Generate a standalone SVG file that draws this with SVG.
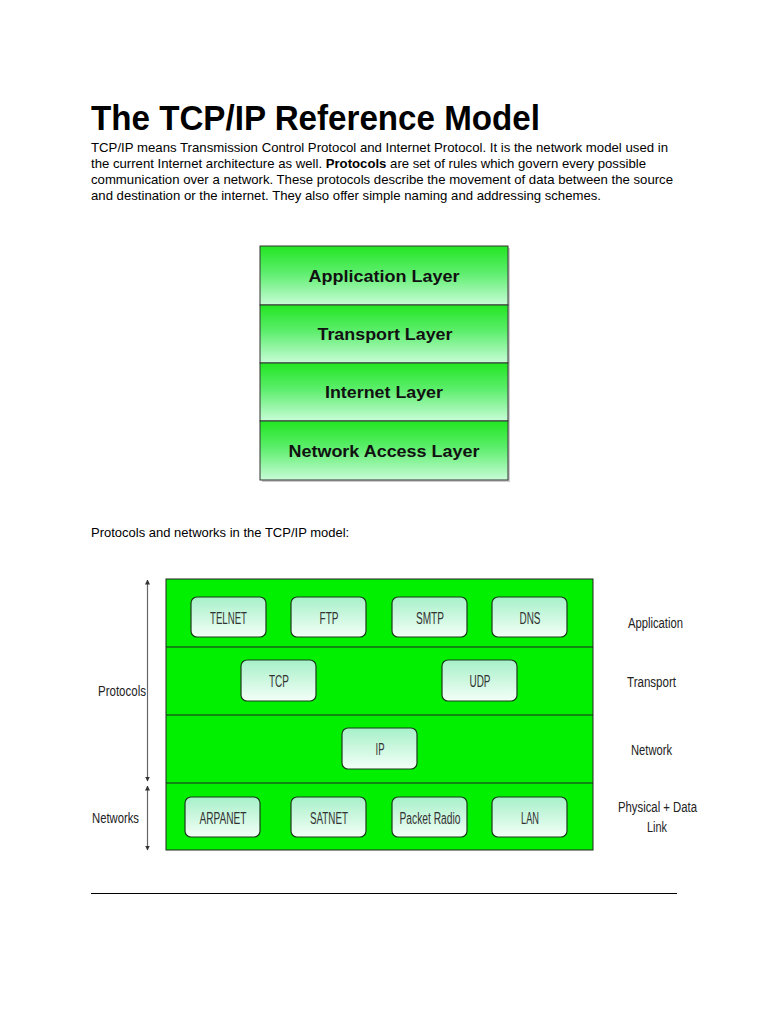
<svg xmlns="http://www.w3.org/2000/svg" width="768" height="1024" viewBox="0 0 768 1024">
<style>
.sans{font-family:"Liberation Sans",Arial,sans-serif;fill:#000}
.layer{stroke:#333;stroke-width:1;fill:url(#lg)}
.layerT{font-family:"Liberation Sans",Arial,sans-serif;font-weight:bold;font-size:17px;fill:#111;text-anchor:middle}
.box{fill:url(#bg);stroke:#1a3a1a;stroke-width:1.2}
.boxT{font-family:"Liberation Sans",Arial,sans-serif;font-size:16px;fill:#333;text-anchor:middle}
.lbl{font-family:"Liberation Sans",Arial,sans-serif;font-size:15.5px;fill:#222;text-anchor:middle}
.arr{stroke:#666;stroke-width:1.2;fill:none;marker-start:url(#ah);marker-end:url(#ah)}
</style>
<defs>
<linearGradient id="lg" x1="0" y1="0" x2="0" y2="1">
<stop offset="0" stop-color="#22e622"/>
<stop offset="0.45" stop-color="#5cee6c"/>
<stop offset="1" stop-color="#c8fcd8"/>
</linearGradient>
<linearGradient id="bg" x1="0" y1="0" x2="0" y2="1">
<stop offset="0" stop-color="#a6f0c8"/>
<stop offset="1" stop-color="#f4fff8"/>
</linearGradient>
<marker id="ah" viewBox="0 0 10 10" refX="9" refY="5" markerWidth="5" markerHeight="6" orient="auto-start-reverse" markerUnits="userSpaceOnUse">
<path d="M0,0 L10,5 L0,10 z" fill="#333"/>
</marker>
</defs>
<rect width="768" height="1024" fill="#fff"/>

<text class="sans" x="91" y="130" font-size="35" font-weight="bold" textLength="449" lengthAdjust="spacingAndGlyphs">The TCP/IP Reference Model</text>
<g class="sans" font-size="13">
<text x="91" y="152" textLength="577" lengthAdjust="spacingAndGlyphs">TCP/IP means Transmission Control Protocol and Internet Protocol. It is the network model used in</text>
<text x="91" y="168" textLength="555" lengthAdjust="spacingAndGlyphs">the current Internet architecture as well. <tspan font-weight="bold">Protocols</tspan> are set of rules which govern every possible</text>
<text x="91" y="184" textLength="582" lengthAdjust="spacingAndGlyphs">communication over a network. These protocols describe the movement of data between the source</text>
<text x="91" y="200" textLength="510" lengthAdjust="spacingAndGlyphs">and destination or the internet. They also offer simple naming and addressing schemes.</text>
</g>

<g id="layer-stack">
<rect x="262" y="248" width="248" height="234" fill="#ccc"/>
<g id="app-layer"><rect class="layer" x="260" y="246" width="248" height="59"/><text class="layerT" x="384" y="282" textLength="151" lengthAdjust="spacingAndGlyphs">Application Layer</text></g>
<g id="transport-layer"><rect class="layer" x="260" y="305" width="248" height="58"/><text class="layerT" x="385" y="340" textLength="135" lengthAdjust="spacingAndGlyphs">Transport Layer</text></g>
<g id="internet-layer"><rect class="layer" x="260" y="363" width="248" height="58"/><text class="layerT" x="384" y="398" textLength="118" lengthAdjust="spacingAndGlyphs">Internet Layer</text></g>
<g id="netaccess-layer"><rect class="layer" x="260" y="421" width="248" height="59"/><text class="layerT" x="384" y="457" textLength="191" lengthAdjust="spacingAndGlyphs">Network Access Layer</text></g>
</g>

<text class="sans" x="91" y="537" font-size="13">Protocols and networks in the TCP/IP model:</text>

<g id="model">
<rect x="166" y="579" width="427" height="271" fill="#00f000" stroke="#222" stroke-width="1"/>
<line x1="166" y1="647" x2="593" y2="647" stroke="#222" stroke-width="1"/>
<line x1="166" y1="715" x2="593" y2="715" stroke="#222" stroke-width="1"/>
<line x1="166" y1="783" x2="593" y2="783" stroke="#222" stroke-width="1"/>
</g>
<g id="telnet"><rect class="box" x="191" y="597" width="75" height="40" rx="6"/><text class="boxT" x="228.5" y="624" textLength="37" lengthAdjust="spacingAndGlyphs">TELNET</text></g>
<g id="ftp"><rect class="box" x="291" y="597" width="75" height="40" rx="6"/><text class="boxT" x="329" y="624" textLength="19" lengthAdjust="spacingAndGlyphs">FTP</text></g>
<g id="smtp"><rect class="box" x="392" y="597" width="75" height="40" rx="6"/><text class="boxT" x="430" y="624" textLength="28" lengthAdjust="spacingAndGlyphs">SMTP</text></g>
<g id="dns"><rect class="box" x="492" y="597" width="75" height="40" rx="6"/><text class="boxT" x="530" y="624" textLength="21" lengthAdjust="spacingAndGlyphs">DNS</text></g>
<g id="tcp"><rect class="box" x="241" y="660" width="75" height="41" rx="6"/><text class="boxT" x="279" y="687" textLength="20" lengthAdjust="spacingAndGlyphs">TCP</text></g>
<g id="udp"><rect class="box" x="442" y="660" width="75" height="41" rx="6"/><text class="boxT" x="480" y="687" textLength="21" lengthAdjust="spacingAndGlyphs">UDP</text></g>
<g id="ip"><rect class="box" x="342" y="728" width="75" height="41" rx="6"/><text class="boxT" x="380" y="755" textLength="9" lengthAdjust="spacingAndGlyphs">IP</text></g>
<g id="arpanet"><rect class="box" x="185" y="797" width="75" height="40" rx="6"/><text class="boxT" x="223" y="824" textLength="47" lengthAdjust="spacingAndGlyphs">ARPANET</text></g>
<g id="satnet"><rect class="box" x="291" y="797" width="75" height="40" rx="6"/><text class="boxT" x="329" y="824" textLength="38" lengthAdjust="spacingAndGlyphs">SATNET</text></g>
<g id="packet-radio"><rect class="box" x="392" y="797" width="75" height="40" rx="6"/><text class="boxT" x="430" y="824" textLength="61" lengthAdjust="spacingAndGlyphs">Packet Radio</text></g>
<g id="lan"><rect class="box" x="492" y="797" width="75" height="40" rx="6"/><text class="boxT" x="530" y="824" textLength="18" lengthAdjust="spacingAndGlyphs">LAN</text></g>

<g id="connectors">
<line class="arr" x1="147.5" y1="580" x2="147.5" y2="781"/>
<line class="arr" x1="147.5" y1="786" x2="147.5" y2="850"/>
</g>

<g id="side-labels">
<text class="lbl" x="122" y="696" textLength="48" lengthAdjust="spacingAndGlyphs">Protocols</text>
<text class="lbl" x="115.5" y="823" textLength="47" lengthAdjust="spacingAndGlyphs">Networks</text>
<text class="lbl" x="655.5" y="628" textLength="55" lengthAdjust="spacingAndGlyphs">Application</text>
<text class="lbl" x="651.5" y="687" textLength="49" lengthAdjust="spacingAndGlyphs">Transport</text>
<text class="lbl" x="651.5" y="755" textLength="41" lengthAdjust="spacingAndGlyphs">Network</text>
<text class="lbl" x="657.5" y="812" textLength="79" lengthAdjust="spacingAndGlyphs">Physical + Data</text>
<text class="lbl" x="657" y="832" textLength="20" lengthAdjust="spacingAndGlyphs">Link</text>
</g>

<line x1="91" y1="893.5" x2="677" y2="893.5" stroke="#000" stroke-width="1"/>
</svg>
